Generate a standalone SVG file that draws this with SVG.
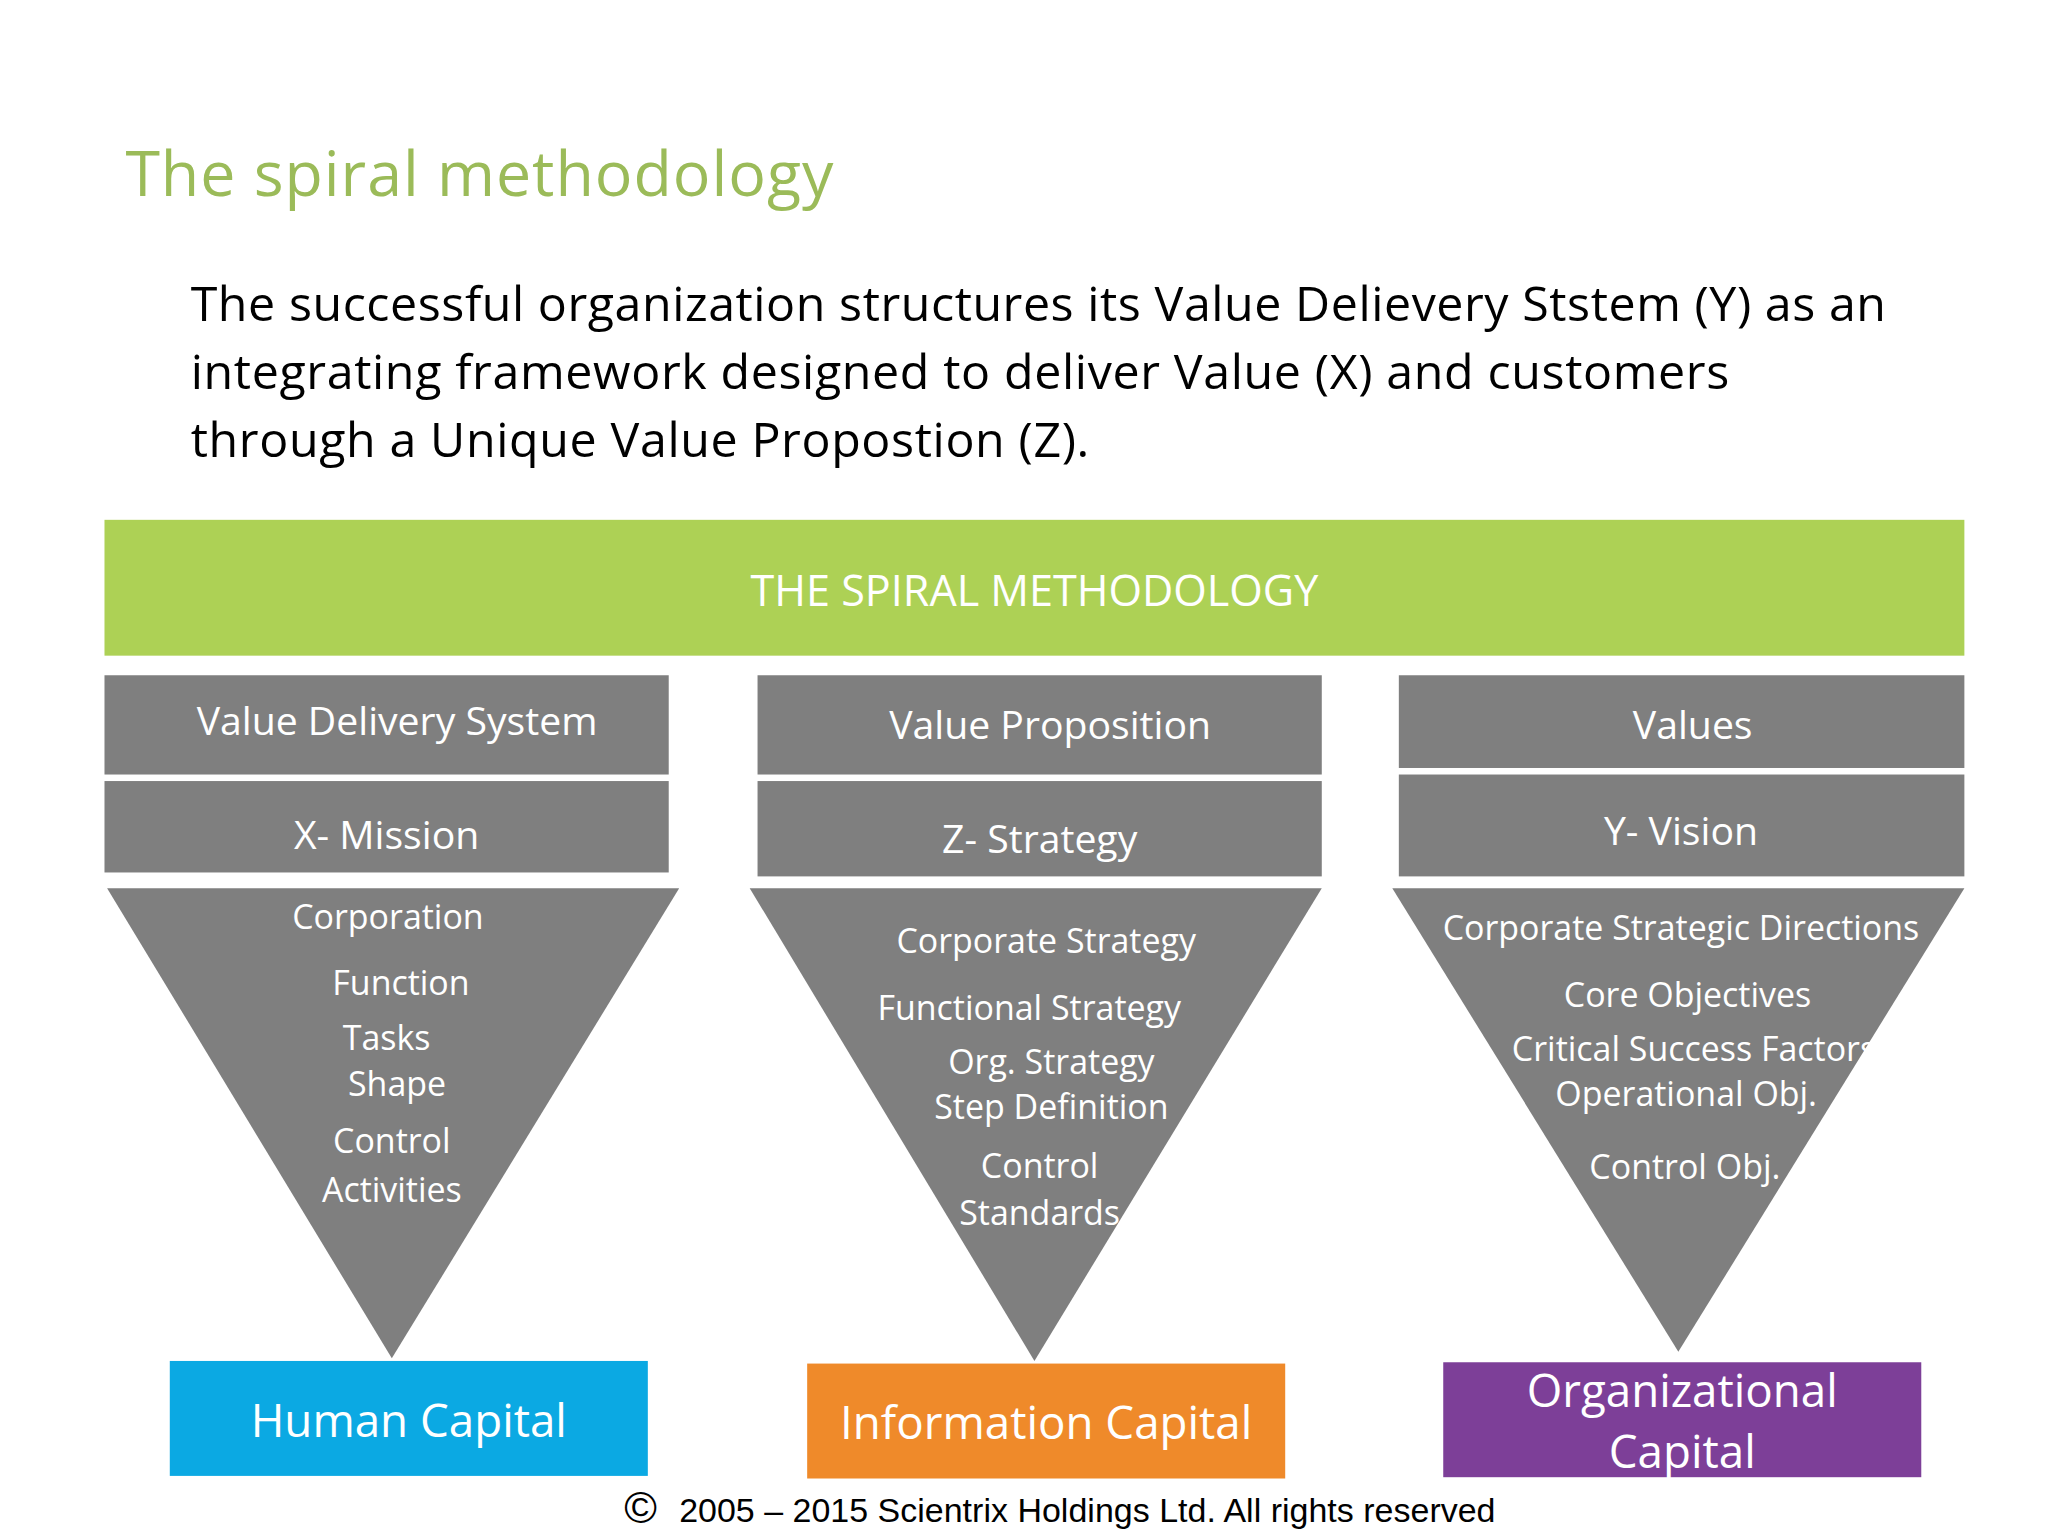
<svg xmlns="http://www.w3.org/2000/svg" width="2048" height="1536" viewBox="0 0 2048 1536">
<style>
.b{font-family:"Open Sans","Noto Sans",sans-serif;fill:#fff}
.g{fill:#7f7f7f}
.t{font-family:"Open Sans","Noto Sans",sans-serif;fill:#fff;font-size:26px;text-anchor:middle}
.h{font-size:30px;text-anchor:middle}
.c{font-size:35px;text-anchor:middle}
</style>
<rect width="2048" height="1536" fill="#fff"/>
<g transform="scale(1.3061)">
<text x="96" y="150" font-family="Open Sans, sans-serif" font-size="48" fill="#9bbb59" textLength="542">The spiral methodology</text>
<g font-family="Open Sans, Noto Sans, sans-serif" font-size="37" fill="#000">
<text x="146" y="246" textLength="1298">The successful organization structures its Value Delievery Ststem (Y) as an</text>
<text x="146" y="298" textLength="1178">integrating framework designed to deliver Value (X) and customers</text>
<text x="146" y="350" textLength="688">through a Unique Value Propostion (Z).</text>
</g>
<g id="header"><rect x="80" y="398" width="1424" height="104" fill="#add155"/>
<text class="b" x="792" y="464" font-size="33" text-anchor="middle">THE SPIRAL METHODOLOGY</text></g>
<g id="col1">
<rect class="g" x="80" y="517" width="432" height="76"/><rect class="g" x="80" y="598" width="432" height="70"/>
<text class="b h" x="304" y="563">Value Delivery System</text><text class="b h" x="296" y="650">X- Mission</text>
<polygon class="g" points="82,680 520,680 300,1040"/>
<text class="t" x="297" y="711">Corporation</text><text class="t" x="307" y="762">Function</text>
<text class="t" x="296" y="804">Tasks</text><text class="t" x="304" y="839">Shape</text>
<text class="t" x="300" y="883">Control</text><text class="t" x="300" y="920">Activities</text>
</g>
<g id="col2">
<rect class="g" x="580" y="517" width="432" height="76"/><rect class="g" x="580" y="598" width="432" height="73"/>
<text class="b h" x="804" y="566">Value Proposition</text><text class="b h" x="796" y="653">Z- Strategy</text>
<polygon class="g" points="574,680 1012,680 792,1042"/>
<text class="t" x="801" y="730">Corporate Strategy</text><text class="t" x="788" y="781">Functional Strategy</text>
<text class="t" x="805" y="822">Org. Strategy</text><text class="t" x="805" y="857">Step Definition</text>
<text class="t" x="796" y="902">Control</text><text class="t" x="796" y="938">Standards</text>
</g>
<g id="col3">
<rect class="g" x="1071" y="517" width="433" height="71"/><rect class="g" x="1071" y="593" width="433" height="78"/>
<text class="b h" x="1296" y="566">Values</text><text class="b h" x="1287" y="647">Y- Vision</text>
<polygon class="g" points="1066,680 1504,680 1285,1035"/>
<text class="t" x="1287" y="720">Corporate Strategic Directions</text><text class="t" x="1292" y="771">Core Objectives</text>
<text class="t" x="1297" y="812">Critical Success Factors</text><text class="t" x="1291" y="847">Operational Obj.</text>
<text class="t" x="1290" y="903">Control Obj.</text>
</g>
<g id="human"><rect x="130" y="1042" width="366" height="88" fill="#0ba9e3"/><text class="b c" x="313" y="1100">Human Capital</text></g>
<g id="info"><rect x="618" y="1044" width="366" height="88" fill="#ef8a2a"/><text class="b c" x="801" y="1102">Information Capital</text></g>
<g id="org"><rect x="1105" y="1043" width="366" height="88" fill="#7d3f98"/><text class="b c" x="1288" y="1077">Organizational</text><text class="b c" x="1288" y="1124">Capital</text></g>
<g id="connectors"/>
<text x="478" y="1166" font-family="Liberation Sans, sans-serif" font-size="34" fill="#000">©</text>
<text x="520" y="1165" font-family="Liberation Sans, sans-serif" font-size="26" fill="#000" textLength="625">2005 – 2015 Scientrix Holdings Ltd. All rights reserved</text>
</g>
</svg>
